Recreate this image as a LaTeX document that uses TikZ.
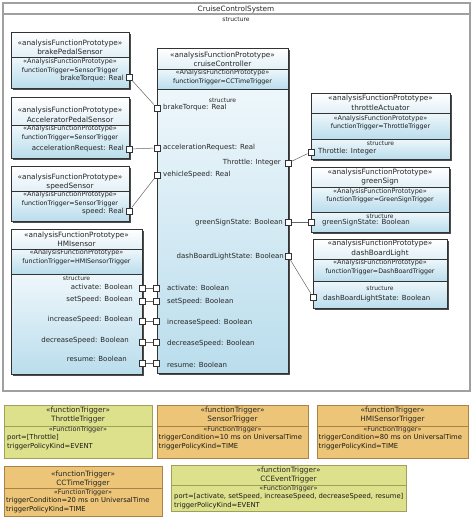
\documentclass[tikz,border=0pt]{standalone}
\usepackage{fontspec}
\setmainfont{DejaVu Sans}
\definecolor{bluebot}{RGB}{186,221,236}
\definecolor{bluetop}{RGB}{238,247,251}
\definecolor{headbot}{RGB}{226,240,247}
\definecolor{ygfill}{RGB}{222,225,140}
\definecolor{ygline}{RGB}{160,160,90}
\definecolor{orfill}{RGB}{236,197,120}
\definecolor{orline}{RGB}{170,130,70}
\definecolor{framecol}{RGB}{160,160,160}
\tikzset{
  framebox/.style={draw=framecol, line width=1.2pt, fill=white},
  shadowbox/.style={fill=black!70, draw=none},
  headcomp/.style={draw=black!80, line width=0.6pt, top color=white, bottom color=headbot},
  compart/.style={draw=black!80, line width=0.6pt, top color=bluetop, bottom color=bluebot},
  ygbox/.style={draw=ygline, line width=0.6pt, fill=ygfill},
  orbox/.style={draw=orline, line width=0.6pt, fill=orfill},
  portbox/.style={draw=black!80, fill=white, minimum size=6.5pt, inner sep=0pt, line width=0.5pt},
  wire/.style={draw=black!60, line width=0.5pt},
  hd/.style={font=\fontsize{7.3}{8}\selectfont, inner sep=0pt, text=black!85},
  afp/.style={font=\fontsize{6.5}{7}\selectfont, inner sep=0pt, text=black!85},
  ftr/.style={font=\fontsize{6.3}{7}\selectfont, inner sep=0pt, text=black!90},
  plab/.style={font=\fontsize{7}{8}\selectfont, inner sep=0pt, text=black!85},
  strl/.style={font=\fontsize{6}{7}\selectfont, inner sep=0pt, text=black!85},
  tatt/.style={font=\fontsize{6.8}{7.5}\selectfont, inner sep=0pt, text=black!90, anchor=west},
}
\begin{document}
\begin{tikzpicture}[x=1pt,y=-1pt]
\useasboundingbox (0,0) rectangle (474,520);
% outer frame
\path[framebox] (3,3) rectangle (470,391);
\draw[framecol, line width=1.2pt] (3,14) -- (470,14);
\node[hd] (title) at (236,9) {CruiseControlSystem};
\node[strl] (titlestr) at (236,19) {structure};

% ---------- brakePedalSensor
\fill[shadowbox] (13,34) rectangle (131,90);
\path[headcomp] (11,32) rectangle (129,57);
\path[compart] (11,57) rectangle (129,88);
\node[hd] (bps1) at (70,43) {«analysisFunctionPrototype»};
\node[hd] (bps2) at (70,52) {brakePedalSensor};
\node[afp] (bps3) at (70,62) {«AnalysisFunctionPrototype»};
\node[ftr] (bps4) at (70,71) {functionTrigger=SensorTrigger};
\node[plab, anchor=east] (bps5) at (124,79) {brakeTorque: Real};

% ---------- AcceleratorPedalSensor
\fill[shadowbox] (13,99) rectangle (131,160);
\path[headcomp] (11,97) rectangle (129,125);
\path[compart] (11,125) rectangle (129,158);
\node[hd] (aps1) at (70,110) {«analysisFunctionPrototype»};
\node[hd] (aps2) at (70,120) {AcceleratorPedalSensor};
\node[afp] (aps3) at (70,129) {«AnalysisFunctionPrototype»};
\node[ftr] (aps4) at (70,138) {functionTrigger=SensorTrigger};
\node[plab, anchor=east] (aps5) at (124,149) {accelerationRequest: Real};

% ---------- speedSensor
\fill[shadowbox] (13,168) rectangle (131,223);
\path[headcomp] (11,166) rectangle (129,191);
\path[compart] (11,191) rectangle (129,221);
\node[hd] (ss1) at (70,177) {«analysisFunctionPrototype»};
\node[hd] (ss2) at (70,186) {speedSensor};
\node[afp] (ss3) at (70,195) {«AnalysisFunctionPrototype»};
\node[ftr] (ss4) at (70,204) {functionTrigger=SensorTrigger};
\node[plab, anchor=east] (ss5) at (124,212) {speed: Real};

% ---------- HMIsensor
\fill[shadowbox] (13,231) rectangle (144,376);
\path[headcomp] (11,229) rectangle (142,249);
\path[compart] (11,249) rectangle (142,274);
\path[compart] (11,274) rectangle (142,374);
\node[hd] (hmi1) at (76.5,235) {«analysisFunctionPrototype»};
\node[hd] (hmi2) at (76.5,243.5) {HMIsensor};
\node[afp] (hmi3) at (76.5,253) {«AnalysisFunctionPrototype»};
\node[ftr] (hmi4) at (76.5,262) {functionTrigger=HMISensorTrigger};
\node[strl] (hmi5) at (76.5,278) {structure};
\node[plab, anchor=east] (hmi6) at (133,287) {activate: Boolean};
\node[plab, anchor=east] (hmi7) at (133,300) {setSpeed: Boolean};
\node[plab, anchor=east] (hmi8) at (133,320) {increaseSpeed: Boolean};
\node[plab, anchor=east] (hmi9) at (129,341) {decreaseSpeed: Boolean};
\node[plab, anchor=east] (hmi10) at (127,359) {resume: Boolean};

% ---------- cruiseController
\fill[shadowbox] (159,50) rectangle (290,375);
\path[headcomp] (157,48) rectangle (288,69);
\path[compart] (157,69) rectangle (288,89);
\path[compart] (157,89) rectangle (288,373);
\node[hd] (cc1) at (222.5,55) {«analysisFunctionPrototype»};
\node[hd] (cc2) at (222.5,63.5) {cruiseController};
\node[afp] (cc3) at (222.5,73) {«AnalysisFunctionPrototype»};
\node[ftr] (cc4) at (222.5,82) {functionTrigger=CCTimeTrigger};
\node[strl] (cc5) at (222.5,100) {structure};
\node[plab, anchor=west] (cc6) at (163,108) {brakeTorque: Real};
\node[plab, anchor=west] (cc7) at (163,148) {accelerationRequest: Real};
\node[plab, anchor=east] (cc8) at (281,163) {Throttle: Integer};
\node[plab, anchor=west] (cc9) at (163,175) {vehicleSpeed: Real};
\node[plab, anchor=east] (cc10) at (283,223) {greenSignState: Boolean};
\node[plab, anchor=east] (cc11) at (284,257) {dashBoardLightState: Boolean};
\node[plab, anchor=west] (cc12) at (167,288) {activate: Boolean};
\node[plab, anchor=west] (cc13) at (167,302) {setSpeed: Boolean};
\node[plab, anchor=west] (cc14) at (167,323) {increaseSpeed: Boolean};
\node[plab, anchor=west] (cc15) at (167,344) {decreaseSpeed: Boolean};
\node[plab, anchor=west] (cc16) at (167,365) {resume: Boolean};

% ---------- throttleActuator
\fill[shadowbox] (313,95) rectangle (452,161);
\path[headcomp] (311,93) rectangle (450,113);
\path[compart] (311,113) rectangle (450,139);
\path[compart] (311,139) rectangle (450,159);
\node[hd] (ta1) at (380.5,98.5) {«analysisFunctionPrototype»};
\node[hd] (ta2) at (380.5,108) {throttleActuator};
\node[afp] (ta3) at (380.5,118.5) {«AnalysisFunctionPrototype»};
\node[ftr] (ta4) at (380.5,127) {functionTrigger=ThrottleTrigger};
\node[strl] (ta5) at (380.5,143) {structure};
\node[plab, anchor=west] (ta6) at (318,152) {Throttle: Integer};

% ---------- greenSign
\fill[shadowbox] (313,169) rectangle (451,234);
\path[headcomp] (311,167) rectangle (449,187);
\path[compart] (311,187) rectangle (449,212);
\path[compart] (311,212) rectangle (449,232);
\node[hd] (gs1) at (380,172.5) {«analysisFunctionPrototype»};
\node[hd] (gs2) at (380,181.5) {greenSign};
\node[afp] (gs3) at (380,191.5) {«AnalysisFunctionPrototype»};
\node[ftr] (gs4) at (380,200) {functionTrigger=GreenSignTrigger};
\node[strl] (gs5) at (380,216) {structure};
\node[plab, anchor=west] (gs6) at (322,223) {greenSignState: Boolean};

% ---------- dashBoardLight
\fill[shadowbox] (315,241) rectangle (449,310);
\path[headcomp] (313,239) rectangle (447,259);
\path[compart] (313,259) rectangle (447,281);
\path[compart] (313,281) rectangle (447,308);
\node[hd] (db1) at (380,243.5) {«analysisFunctionPrototype»};
\node[hd] (db2) at (380,253) {dashBoardLight};
\node[afp] (db3) at (380,263) {«AnalysisFunctionPrototype»};
\node[ftr] (db4) at (380,271.5) {functionTrigger=DashBoardTrigger};
\node[strl] (db5) at (380,288) {structure};
\node[plab, anchor=west] (db6) at (323,299) {dashBoardLightState: Boolean};

% ---------- ports
\node[portbox] (pBT) at (129,77) {};
\node[portbox] (pAR) at (129,149) {};
\node[portbox] (pSP) at (129,211) {};
\node[portbox] (hA) at (142,288) {};
\node[portbox] (hS) at (142,301) {};
\node[portbox] (hI) at (142,321) {};
\node[portbox] (hD) at (142,342) {};
\node[portbox] (hR) at (142,363) {};
\node[portbox] (cBT) at (157,108) {};
\node[portbox] (cAR) at (157,148) {};
\node[portbox] (cVS) at (157,175) {};
\node[portbox] (cA) at (156,288) {};
\node[portbox] (cS) at (156,301) {};
\node[portbox] (cI) at (156,321) {};
\node[portbox] (cD) at (156,342) {};
\node[portbox] (cR) at (156,363) {};
\node[portbox] (cTH) at (288,163) {};
\node[portbox] (cGS) at (288,222) {};
\node[portbox] (cDB) at (288,256) {};
\node[portbox] (tTH) at (311,152) {};
\node[portbox] (gGS) at (311,222) {};
\node[portbox] (dDB) at (313,297) {};

% ---------- connectors
\draw[wire] (pBT) -- (cBT);
\draw[wire] (pAR) -- (cAR);
\draw[wire] (pSP) -- (cVS);
\draw[wire] (hA) -- (cA);
\draw[wire] (hS) -- (cS);
\draw[wire] (hI) -- (cI);
\draw[wire] (hD) -- (cD);
\draw[wire] (hR) -- (cR);
\draw[wire] (cTH) -- (tTH);
\draw[wire] (cGS) -- (gGS);
\draw[wire] (cDB) -- (dDB);

% ---------- triggers
% ThrottleTrigger
\path[ygbox] (4,405) rectangle (152,458);
\draw[ygline, line width=0.6pt] (4,426) -- (152,426);
\node[hd] (tt1) at (78,410) {«functionTrigger»};
\node[hd] (tt2) at (78,419.5) {ThrottleTrigger};
\node[afp] (tt3) at (78,429.5) {«FunctionTrigger»};
\node[tatt] (tt4) at (7,438) {port=[Throttle]};
\node[tatt] (tt5) at (7,447) {triggerPolicyKind=EVENT};

% SensorTrigger
\path[orbox] (157,405) rectangle (308,458);
\draw[orline, line width=0.6pt] (157,426) -- (308,426);
\node[hd] (st1) at (232.5,410) {«functionTrigger»};
\node[hd] (st2) at (232.5,419.5) {SensorTrigger};
\node[afp] (st3) at (232.5,429.5) {«FunctionTrigger»};
\node[tatt] (st4) at (158.5,438) {triggerCondition=10 ms on UniversalTime};
\node[tatt] (st5) at (158.5,447) {triggerPolicyKind=TIME};

% HMISensorTrigger
\path[orbox] (317,405) rectangle (468,458);
\draw[orline, line width=0.6pt] (317,426) -- (468,426);
\node[hd] (ht1) at (392.5,410) {«functionTrigger»};
\node[hd] (ht2) at (392.5,419.5) {HMISensorTrigger};
\node[afp] (ht3) at (392.5,429.5) {«FunctionTrigger»};
\node[tatt] (ht4) at (318.5,438) {triggerCondition=80 ms on UniversalTime};
\node[tatt] (ht5) at (318.5,447) {triggerPolicyKind=TIME};

% CCTimeTrigger
\path[orbox] (4,466) rectangle (162,516);
\draw[orline, line width=0.6pt] (4,488) -- (162,488);
\node[hd] (ct1) at (83,474.5) {«functionTrigger»};
\node[hd] (ct2) at (83,483.5) {CCTimeTrigger};
\node[afp] (ct3) at (83,492.5) {«FunctionTrigger»};
\node[tatt] (ct4) at (6,501) {triggerCondition=20 ms on UniversalTime};
\node[tatt] (ct5) at (6,510) {triggerPolicyKind=TIME};

% CCEventTrigger
\path[ygbox] (171,465) rectangle (406,511);
\draw[ygline, line width=0.6pt] (171,485) -- (406,485);
\node[hd] (ce1) at (288.5,470) {«functionTrigger»};
\node[hd] (ce2) at (288.5,479.5) {CCEventTrigger};
\node[afp] (ce3) at (288.5,489) {«FunctionTrigger»};
\node[tatt] (ce4) at (174,497) {port=[activate, setSpeed, increaseSpeed, decreaseSpeed, resume]};
\node[tatt] (ce5) at (174,505.5) {triggerPolicyKind=EVENT};
\end{tikzpicture}
\end{document}
